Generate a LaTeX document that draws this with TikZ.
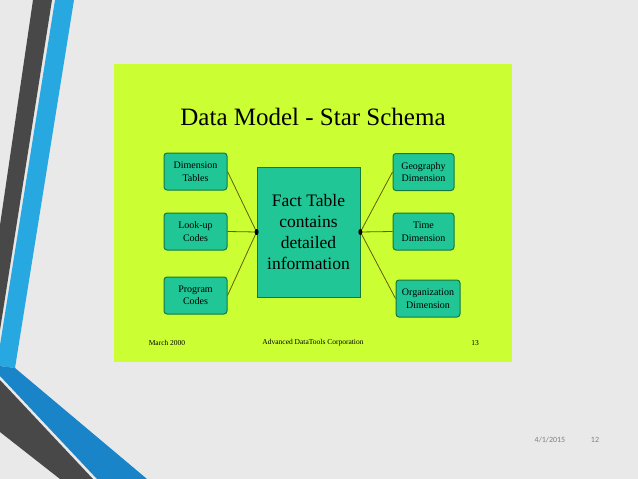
\documentclass[tikz,border=0pt]{standalone}
\usepackage{fontspec}
\setmainfont{Liberation Serif}
\newfontfamily\datefont{Carlito}
\definecolor{slidebg}{RGB}{233,233,233}
\definecolor{panel}{RGB}{204,255,51}
\definecolor{boxfill}{RGB}{32,198,150}
\definecolor{boxline}{RGB}{22,120,60}
\definecolor{linkline}{RGB}{95,95,10}
\definecolor{stripedark}{RGB}{72,72,72}
\definecolor{stripeblue}{RGB}{40,168,225}
\definecolor{stripedeep}{RGB}{25,132,200}
\begin{document}
\begin{tikzpicture}[x=1pt,y=-1pt,
		dimbox/.style={draw=boxline,line width=1pt,fill=boxfill,rounded corners=3pt,
			minimum width=63pt,minimum height=37pt,inner sep=0pt,align=center,
			font=\fontsize{10}{12.5}\selectfont},
		factbox/.style={draw=boxline,line width=0.8pt,fill=boxfill,
			minimum width=103pt,minimum height=130pt,inner sep=0pt,align=center,
			font=\fontsize{17.5}{21}\selectfont},
		link/.style={draw=linkline,line width=0.8pt},
		foot/.style={font=\fontsize{7.5}{9}\selectfont,inner sep=0pt}]
		\useasboundingbox (0,0) rectangle (638,479);
		% slide background and side stripes
		\fill[slidebg] (0,0) rectangle (638,479);
		\fill[stripedark] (33,0) -- (52,0) -- (0,330) -- (0,225) -- cycle;
		\fill[stripeblue] (55,0) -- (74,0) -- (15,368) -- (0,366) -- (0,345) -- cycle;
		\fill[stripedeep] (0,366) -- (15,368) -- (147,479) -- (97,479) -- (0,376) -- cycle;
		\fill[stripedark] (0,380) -- (93,479) -- (60,479) -- (0,432) -- cycle;
		% the scanned slide
		\fill[panel] (114,64) rectangle (512,362);
		\path
			  (313,117) node[font=\fontsize{25}{30}\selectfont] (title)  {Data Model - Star Schema}
			  (308.5,232) node[factbox] (fact)   {Fact Table\\contains\\detailed\\information}
			  (195.5,171.5) node[dimbox] (dimtab) {Dimension\\Tables}
			  (195.5,231.5) node[dimbox] (lookup) {Look-up\\Codes}
			  (195.5,295.5) node[dimbox] (prog)   {Program\\Codes}
			  (423.5,172) node[dimbox,minimum width=61pt] (geo)  {Geography\\Dimension}
			  (423.5,231.5) node[dimbox,minimum width=61pt] (time) {Time\\Dimension}
			  (428,298.5) node[dimbox,minimum width=64pt] (org)  {Organization\\Dimension}
			  (167,343) node[foot] (month)  {March 2000}
			  (313,343) node[foot] (corp)   {Advanced DataTools Corporation}
			  (475,343) node[foot] (page)   {13}
			  (550,440) node[font=\datefont\fontsize{8}{10}\selectfont,text=gray] (date) {4/1/2015}
			  (595,440) node[font=\datefont\fontsize{8}{10}\selectfont,text=gray] (slide) {12}
		;
		\draw[link] (dimtab.east) -- (fact.west);
		\draw[link] (lookup.east) -- (fact.west);
		\draw[link] (prog.east)   -- (fact.west);
		\draw[link] (fact.east)   -- (geo.west);
		\draw[link] (fact.east)   -- (time.west);
		\draw[link] (fact.east)   -- (org.west);
		\fill (fact.west) ellipse (2pt and 3pt);
		\fill (fact.east) ellipse (2pt and 3pt);
	\end{tikzpicture}
\end{document}
